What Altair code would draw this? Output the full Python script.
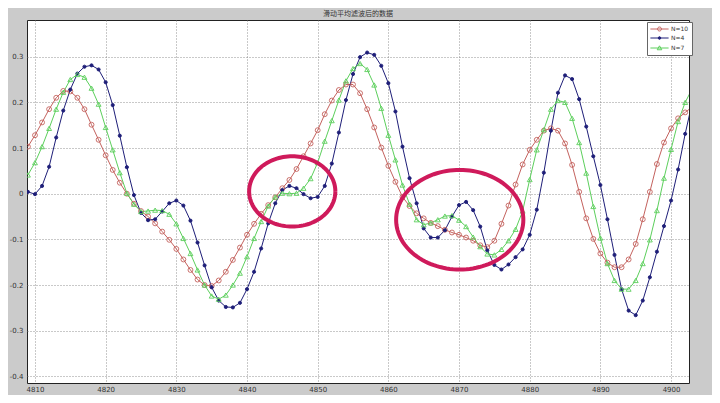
import altair as alt
import numpy as np
import pandas as pd

# ---------------- data ----------------
x_values = list(range(4809, 4904))
series_names = ["N=10", "N=4", "N=7"]

n10 = [0.103, 0.128, 0.156, 0.185, 0.210, 0.225, 0.224, 0.210, 0.185, 0.151,
       0.118, 0.084, 0.052, 0.024, 0.000, -0.022, -0.038, -0.050, -0.065, -0.083,
       -0.101, -0.121, -0.144, -0.167, -0.188, -0.200, -0.202, -0.190, -0.171, -0.145,
       -0.118, -0.090, -0.066, -0.044, -0.025, -0.008, 0.012, 0.030, 0.054, 0.082,
       0.110, 0.139, 0.174, 0.204, 0.227, 0.239, 0.239, 0.220, 0.185, 0.145,
       0.101, 0.061, 0.026, -0.007, -0.027, -0.043, -0.054, -0.064, -0.071, -0.079,
       -0.085, -0.090, -0.096, -0.103, -0.113, -0.117, -0.103, -0.066, -0.026, 0.020,
       0.064, 0.096, 0.118, 0.138, 0.143, 0.138, 0.110, 0.063, 0.004, -0.054,
       -0.099, -0.131, -0.151, -0.161, -0.161, -0.144, -0.110, -0.056, 0.004, 0.065,
       0.112, 0.143, 0.165, 0.178, 0.190]

n4 = [0.004, -0.001, 0.017, 0.059, 0.123, 0.182, 0.228, 0.263, 0.278, 0.281,
      0.272, 0.244, 0.194, 0.127, 0.058, -0.003, -0.042, -0.058, -0.056, -0.039,
      -0.021, -0.015, -0.026, -0.059, -0.107, -0.157, -0.205, -0.234, -0.248, -0.249,
      -0.239, -0.209, -0.171, -0.120, -0.065, -0.021, 0.008, 0.017, 0.012, -0.001,
      -0.010, -0.007, 0.017, 0.066, 0.134, 0.205, 0.262, 0.299, 0.309, 0.304,
      0.280, 0.242, 0.180, 0.103, 0.034, -0.021, -0.076, -0.096, -0.096, -0.080,
      -0.050, -0.025, -0.018, -0.036, -0.072, -0.124, -0.156, -0.166, -0.155, -0.139,
      -0.122, -0.090, -0.035, 0.046, 0.138, 0.221, 0.259, 0.251, 0.207, 0.147,
      0.082, 0.019, -0.056, -0.134, -0.209, -0.256, -0.266, -0.234, -0.183, -0.127,
      -0.071, -0.015, 0.053, 0.131, 0.200]

n7 = [0.041, 0.068, 0.103, 0.143, 0.185, 0.222, 0.250, 0.261, 0.255, 0.231,
      0.196, 0.145, 0.096, 0.046, 0.001, -0.023, -0.039, -0.038, -0.036, -0.037,
      -0.045, -0.066, -0.098, -0.131, -0.167, -0.200, -0.224, -0.231, -0.222, -0.200,
      -0.174, -0.138, -0.098, -0.061, -0.027, -0.007, 0.001, 0.000, 0.001, 0.012,
      0.033, 0.068, 0.115, 0.160, 0.205, 0.247, 0.274, 0.285, 0.272, 0.238,
      0.187, 0.128, 0.074, 0.019, -0.023, -0.057, -0.068, -0.064, -0.057, -0.049,
      -0.048, -0.058, -0.072, -0.095, -0.116, -0.132, -0.134, -0.122, -0.103, -0.078,
      -0.038, 0.031, 0.096, 0.140, 0.185, 0.204, 0.200, 0.165, 0.112, 0.045,
      -0.028, -0.097, -0.153, -0.190, -0.209, -0.209, -0.190, -0.153, -0.101, -0.037,
      0.034, 0.097, 0.158, 0.200, 0.230]

x_ticks = [4810, 4820, 4830, 4840, 4850, 4860, 4870, 4880, 4890, 4900]
y_ticks = [-0.4, -0.3, -0.2, -0.1, 0, 0.1, 0.2, 0.3]

# annotation ellipses: centre x, centre y, radius x, radius y
ell_cx = [4846.4, 4870.1]
ell_cy = [0.005, -0.057]
ell_rx = [6.1, 9.0]
ell_ry = [0.077, 0.109]

title_text = "滑动平均滤波后的数据"

# ---------------- styles ----------------
colors = ["#c4625e", "#1e1e78", "#5ccf5c"]
shapes = ["circle", "circle", "triangle-up"]
legend_shapes = [
    "M-2.6,0H2.6M0.57,0A0.57,0.57,0,1,1,-0.57,0A0.57,0.57,0,1,1,0.57,0Z",
    "M-2.6,0H2.6M0.37,0A0.37,0.37,0,1,1,-0.37,0A0.37,0.37,0,1,1,0.37,0Z",
    "M-2.6,0H2.6M0,-0.62L0.66,0.5H-0.66Z",
]
legend_fills = ["transparent", "#1e1e78", "transparent"]
ell_color = "#cf1a5b"

rows = []
for name, vals in zip(series_names, [n10, n4, n7]):
    for xv, yv in zip(x_values, vals):
        rows.append({"x": xv, "y": yv, "series": name})
df = pd.DataFrame(rows)

erows = []
t = np.linspace(0, 2 * np.pi, 121)
for i in range(len(ell_cx)):
    for k, tt in enumerate(t):
        erows.append({"x": ell_cx[i] + ell_rx[i] * np.cos(tt),
                      "y": ell_cy[i] + ell_ry[i] * np.sin(tt),
                      "id": i, "t": k})
edf = pd.DataFrame(erows)

x_scale = alt.Scale(domain=[4808.87, 4902.54], nice=False, zero=False)
y_scale = alt.Scale(domain=[-0.4145, 0.3803], nice=False, zero=False)

x_enc = alt.X("x:Q", scale=x_scale,
              axis=alt.Axis(values=x_ticks, format="d", title=None, labelPadding=2))
y_enc = alt.Y("y:Q", scale=y_scale,
              axis=alt.Axis(values=y_ticks, title=None, labelPadding=4,
                            labelExpr="datum.value == 0 ? '0' : (datum.value < 0 ? '-' + format(-datum.value, '.1f') : format(datum.value, '.1f'))"))

lines = alt.Chart(df).mark_line(strokeWidth=1, clip=True).encode(
    x=x_enc, y=y_enc,
    color=alt.Color("series:N", scale=alt.Scale(domain=series_names, range=colors), legend=None),
    detail="series:N",
)

points = alt.Chart(df).mark_point(clip=True, strokeWidth=0.9, opacity=1).encode(
    x=x_enc, y=y_enc,
    stroke=alt.Stroke("series:N", scale=alt.Scale(domain=series_names, range=colors), legend=None),
    shape=alt.Shape("series:N", scale=alt.Scale(domain=series_names, range=shapes), legend=None),
    fill=alt.condition("datum.series === 'N=4'", alt.value("#1e1e78"), alt.value("transparent")),
    size=alt.condition("datum.series === 'N=4'", alt.value(10), alt.value(24)),
)

legend = alt.Legend(
    orient="none", legendX=620, legendY=2, title=None,
    fillColor="white", strokeColor="#666", padding=3,
    labelFontSize=6, labelFont="DejaVu Sans", labelColor="#333",
    symbolSize=49, symbolStrokeWidth=1, rowPadding=1,
    symbolOffset=5.5, labelOffset=7.5,
)

legend_layer = alt.Chart(df).transform_filter("false").mark_point(opacity=1, strokeWidth=1).encode(
    x=alt.X("x:Q", scale=x_scale), y=alt.Y("y:Q", scale=y_scale),
    stroke=alt.Stroke("series:N", scale=alt.Scale(domain=series_names, range=colors), legend=legend),
    shape=alt.Shape("series:N", scale=alt.Scale(domain=series_names, range=legend_shapes), legend=legend),
    fill=alt.Fill("series:N", scale=alt.Scale(domain=series_names, range=legend_fills), legend=legend),
)

ellipses = alt.Chart(edf).mark_line(stroke=ell_color, strokeWidth=4, clip=True).encode(
    x=alt.X("x:Q", scale=x_scale), y=alt.Y("y:Q", scale=y_scale),
    order="t:Q", detail="id:N",
)

chart = alt.layer(lines, points, ellipses, legend_layer).resolve_scale(
    stroke="independent", shape="independent", fill="independent"
).properties(
    width=662, height=363,
    padding={"left": 19, "top": 12, "right": 23, "bottom": 12},
    autosize=alt.AutoSizeParams(type="none"),
    title=alt.TitleParams(title_text, fontSize=7, font="Noto Sans CJK SC",
                          fontWeight="normal", color="#333", offset=3, anchor="middle"),
).configure(background="#cbcbcb").configure_view(
    fill="white", stroke="#222", strokeWidth=1
).configure_axis(
    grid=True, gridDash=[1, 2], gridColor="#777", gridWidth=0.8, gridOpacity=1,
    domain=False, ticks=False, labelFontSize=7, labelColor="#333",
    labelFont="DejaVu Sans",
)

chart.save("out.html", embed_options={"renderer": "svg", "actions": False})
